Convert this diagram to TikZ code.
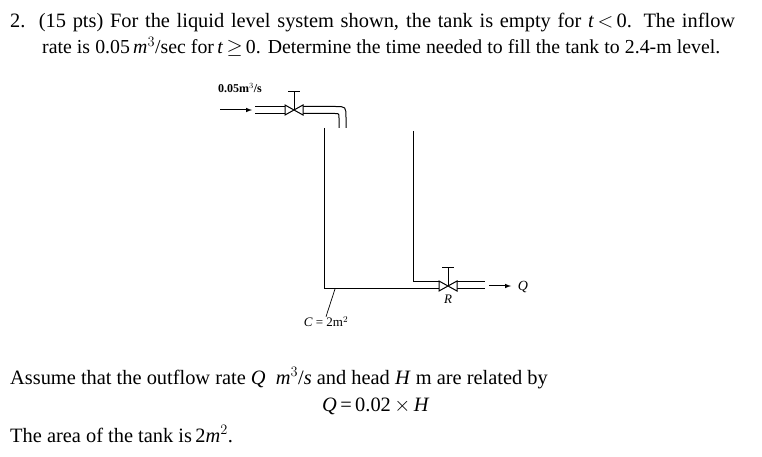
\documentclass[tikz,border=0pt]{standalone}
\usepackage{fontspec}
\setmainfont{Liberation Serif}
\begin{document}
\begin{tikzpicture}[x=1bp,y=-1bp,
  txt/.style={anchor=base west,inner sep=0pt,font=\fontsize{20.4bp}{24bp}\selectfont},
  small/.style={inner sep=0pt,font=\fontsize{12bp}{13bp}\selectfont},
  pipe/.style={line width=1bp},
  valvebody/.style={line width=1bp,fill=white}]
\useasboundingbox (0,0) rectangle (762,457);
\node[txt] (l1) at (10,28) {\makebox[725bp][s]{2.\ \ (15 pts) For the liquid level system shown, the tank is empty for \textit{t}\,$<$\,0. The inflow}};
\node[txt] (l2) at (42,54) {\makebox[678bp][s]{\fontsize{19.8bp}{24bp}\selectfont rate is 0.05\,\textit{m}$^3$/sec for\,\textit{t}\,$\geq$\,0. Determine the time needed to fill the tank to 2.4-m level.}};
\node[txt] (l3) at (10,384) {Assume that the outflow rate \textit{Q}\ \ \textit{m}$^3$/\textit{s} and head \textit{H} m are related by};
\node[txt] (l4) at (322,411) {\textit{Q}\,=\,0.02\,$\times$\,\textit{H}};
\node[txt] (l5) at (10,442) {The area of the tank is\,2\textit{m}$^2$.};
% inflow
\node[small] (qin) at (240,88) {\textbf{0.05m$^3$/s}};
\coordinate (a0) at (220,110);
\coordinate (a1) at (252,110);
\draw[pipe,-latex] (a0) -- (a1);
\coordinate (v1) at (294,110);
\draw[pipe] (255,106.5) -- (285,106.5) (255,113.5) -- (285,113.5);
\draw[pipe] (303,106.5) -- (335,106.5) .. controls (346,106.5) .. (346,118) -- (346,128);
\draw[pipe] (303,113.5) -- (335,113.5) .. controls (339,113.5) .. (339,118) -- (339,128);
\draw[valvebody] (v1) -- ++(-9,-5) -- ++(0,10) -- cycle (v1) -- ++(9,-5) -- ++(0,10) -- cycle;
\draw[pipe] (v1) -- ++(0,-18) ++(-6,0) -- ++(12,0);
% tank
\coordinate (tl) at (324,128);
\coordinate (bl) at (324,289);
\coordinate (tr) at (413,131);
\coordinate (br) at (413,282);
\draw[pipe] (tl) -- (bl) -- (439,289);
\draw[pipe] (tr) -- (br) -- (439,282);
\coordinate (v2) at (448,286);
\draw[pipe] (457,282) -- (485,282) (457,289) -- (485,289);
\draw[valvebody] (v2) -- ++(-9,-5) -- ++(0,10) -- cycle (v2) -- ++(9,-5) -- ++(0,10) -- cycle;
\draw[pipe] (v2) -- ++(0,-18) ++(-6,0) -- ++(12,0);
\node[small,font=\fontsize{13bp}{14bp}\selectfont\itshape] (R) at (448,299) {R};
\coordinate (b0) at (489,286);
\coordinate (b1) at (511,286);
\draw[pipe,-latex] (b0) -- (b1);
\node[small,font=\fontsize{14bp}{15bp}\selectfont\itshape] (Q) at (523,287) {Q};
\node[small,font=\fontsize{13bp}{14bp}\selectfont] (C) at (326,322) {\textit{C} = 2m$^2$};
\coordinate (c0) at (335,289);
\draw[line width=0.7bp] (c0) -- (C.north);
\end{tikzpicture}
\end{document}
